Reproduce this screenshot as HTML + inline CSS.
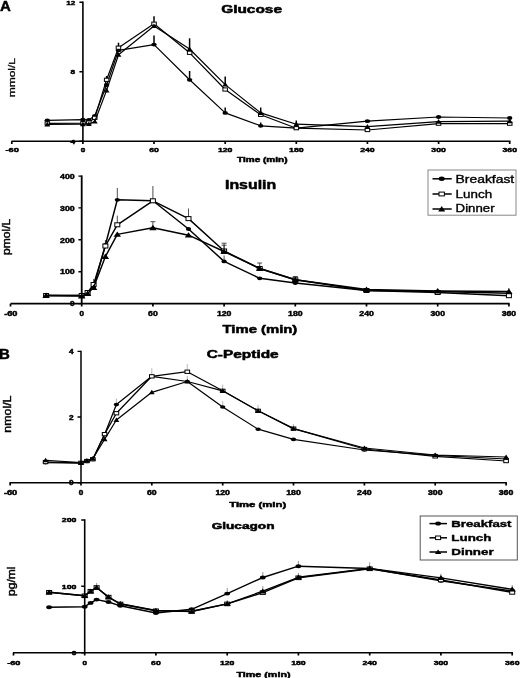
<!DOCTYPE html>
<html lang="en"><head><meta charset="utf-8"><title>Figure</title>
<style>
html,body{margin:0;padding:0;background:#fff}
body{width:520px;height:678px;overflow:hidden}
svg{display:block}
text{font-family:"Liberation Sans",sans-serif;fill:#000}
</style></head><body>
<svg width="520" height="678" viewBox="0 0 520 678">
<rect width="520" height="678" fill="#fff"/>
<path d="M11.5 141.2H510.5" stroke="#000" stroke-width="1.5" fill="none"/>
<path d="M82.9 1.5V141.2" stroke="#000" stroke-width="1.6" fill="none"/>
<path d="M11.8 141.2v2.7M82.9 141.2v2.7M154.0 141.2v2.7M225.2 141.2v2.7M296.3 141.2v2.7M367.4 141.2v2.7M438.6 141.2v2.7M509.7 141.2v2.7" stroke="#000" stroke-width="1.7" fill="none"/>
<path d="M82.9 2.2h-3.5M82.9 71.7h-3.5M82.9 141.2h-3.5" stroke="#000" stroke-width="1.4" fill="none"/>
<text x="5.5" y="152.4" font-size="6.1" font-weight="bold" text-anchor="start" textLength="13.3" lengthAdjust="spacingAndGlyphs" stroke="#000" stroke-width="0.45" stroke-linejoin="round">-60</text>
<text x="80.7" y="152.4" font-size="6.1" font-weight="bold" text-anchor="start" textLength="4.5" lengthAdjust="spacingAndGlyphs" stroke="#000" stroke-width="0.45" stroke-linejoin="round">0</text>
<text x="149.2" y="152.4" font-size="6.1" font-weight="bold" text-anchor="start" textLength="9.6" lengthAdjust="spacingAndGlyphs" stroke="#000" stroke-width="0.45" stroke-linejoin="round">60</text>
<text x="217.9" y="152.4" font-size="6.1" font-weight="bold" text-anchor="start" textLength="14.5" lengthAdjust="spacingAndGlyphs" stroke="#000" stroke-width="0.45" stroke-linejoin="round">120</text>
<text x="289.1" y="152.4" font-size="6.1" font-weight="bold" text-anchor="start" textLength="14.5" lengthAdjust="spacingAndGlyphs" stroke="#000" stroke-width="0.45" stroke-linejoin="round">180</text>
<text x="360.2" y="152.4" font-size="6.1" font-weight="bold" text-anchor="start" textLength="14.5" lengthAdjust="spacingAndGlyphs" stroke="#000" stroke-width="0.45" stroke-linejoin="round">240</text>
<text x="431.3" y="152.4" font-size="6.1" font-weight="bold" text-anchor="start" textLength="14.5" lengthAdjust="spacingAndGlyphs" stroke="#000" stroke-width="0.45" stroke-linejoin="round">300</text>
<text x="502.5" y="152.4" font-size="6.1" font-weight="bold" text-anchor="start" textLength="14.5" lengthAdjust="spacingAndGlyphs" stroke="#000" stroke-width="0.45" stroke-linejoin="round">360</text>
<text x="66.2" y="4.6" font-size="6.1" font-weight="bold" text-anchor="start" textLength="9.0" lengthAdjust="spacingAndGlyphs" stroke="#000" stroke-width="0.45" stroke-linejoin="round">12</text>
<text x="70.6" y="74.1" font-size="6.1" font-weight="bold" text-anchor="start" textLength="4.6" lengthAdjust="spacingAndGlyphs" stroke="#000" stroke-width="0.45" stroke-linejoin="round">8</text>
<text x="70.6" y="143.6" font-size="6.1" font-weight="bold" text-anchor="start" textLength="4.6" lengthAdjust="spacingAndGlyphs" stroke="#000" stroke-width="0.45" stroke-linejoin="round">4</text>
<path d="M118.5 47.7V42.7" stroke="#000" stroke-width="1.5" fill="none"/>
<path d="M154.0 23.7V16.3" stroke="#000" stroke-width="1.5" fill="none"/>
<path d="M154.0 44.6V35.6" stroke="#000" stroke-width="1.5" fill="none"/>
<path d="M189.6 49.0V38.3" stroke="#000" stroke-width="1.5" fill="none"/>
<path d="M189.6 79.8V71.0" stroke="#000" stroke-width="1.5" fill="none"/>
<path d="M225.2 84.6V76.5" stroke="#000" stroke-width="1.5" fill="none"/>
<path d="M225.2 112.9V107.5" stroke="#000" stroke-width="1.5" fill="none"/>
<path d="M260.7 112.9V107.5" stroke="#000" stroke-width="1.5" fill="none"/>
<path d="M260.7 125.8V122.5" stroke="#000" stroke-width="1.5" fill="none"/>
<path d="M296.3 124.2V120.5" stroke="#000" stroke-width="1.5" fill="none"/>
<path d="M106.6 79.8V76.0" stroke="#000" stroke-width="1.5" fill="none"/>
<polyline points="47.3,120.3 82.9,119.7 88.8,119.9 94.8,115.8 106.6,85.0 118.5,50.4 154.0,44.6 189.6,79.8 225.2,112.9 260.7,125.8 296.3,128.2 367.4,121.2 438.6,117.0 509.7,118.0" fill="none" stroke="#000" stroke-width="1.2" stroke-linejoin="round"/>
<ellipse cx="47.3" cy="120.3" rx="2.7" ry="1.9" fill="#000"/>
<ellipse cx="82.9" cy="119.7" rx="2.7" ry="1.9" fill="#000"/>
<ellipse cx="88.8" cy="119.9" rx="2.7" ry="1.9" fill="#000"/>
<ellipse cx="94.8" cy="115.8" rx="2.7" ry="1.9" fill="#000"/>
<ellipse cx="106.6" cy="85.0" rx="2.7" ry="1.9" fill="#000"/>
<ellipse cx="118.5" cy="50.4" rx="2.7" ry="1.9" fill="#000"/>
<ellipse cx="154.0" cy="44.6" rx="2.7" ry="1.9" fill="#000"/>
<ellipse cx="189.6" cy="79.8" rx="2.7" ry="1.9" fill="#000"/>
<ellipse cx="225.2" cy="112.9" rx="2.7" ry="1.9" fill="#000"/>
<ellipse cx="260.7" cy="125.8" rx="2.7" ry="1.9" fill="#000"/>
<ellipse cx="296.3" cy="128.2" rx="2.7" ry="1.9" fill="#000"/>
<ellipse cx="367.4" cy="121.2" rx="2.7" ry="1.9" fill="#000"/>
<ellipse cx="438.6" cy="117.0" rx="2.7" ry="1.9" fill="#000"/>
<ellipse cx="509.7" cy="118.0" rx="2.7" ry="1.9" fill="#000"/>
<polyline points="47.3,123.4 82.9,123.2 88.8,122.5 94.8,117.8 106.6,79.8 118.5,47.7 154.0,23.7 189.6,52.8 225.2,89.5 260.7,114.8 296.3,128.2 367.4,130.0 438.6,123.7 509.7,123.7" fill="none" stroke="#000" stroke-width="1.2" stroke-linejoin="round"/>
<rect x="45.1" y="121.8" width="4.5" height="3.2" fill="#fff" stroke="#000" stroke-width="1"/>
<rect x="80.7" y="121.6" width="4.5" height="3.2" fill="#fff" stroke="#000" stroke-width="1"/>
<rect x="86.6" y="120.9" width="4.5" height="3.2" fill="#fff" stroke="#000" stroke-width="1"/>
<rect x="92.5" y="116.2" width="4.5" height="3.2" fill="#fff" stroke="#000" stroke-width="1"/>
<rect x="104.4" y="78.2" width="4.5" height="3.2" fill="#fff" stroke="#000" stroke-width="1"/>
<rect x="116.2" y="46.1" width="4.5" height="3.2" fill="#fff" stroke="#000" stroke-width="1"/>
<rect x="151.8" y="22.1" width="4.5" height="3.2" fill="#fff" stroke="#000" stroke-width="1"/>
<rect x="187.4" y="51.2" width="4.5" height="3.2" fill="#fff" stroke="#000" stroke-width="1"/>
<rect x="222.9" y="87.9" width="4.5" height="3.2" fill="#fff" stroke="#000" stroke-width="1"/>
<rect x="258.5" y="113.2" width="4.5" height="3.2" fill="#fff" stroke="#000" stroke-width="1"/>
<rect x="294.1" y="126.6" width="4.5" height="3.2" fill="#fff" stroke="#000" stroke-width="1"/>
<rect x="365.2" y="128.4" width="4.5" height="3.2" fill="#fff" stroke="#000" stroke-width="1"/>
<rect x="436.3" y="122.1" width="4.5" height="3.2" fill="#fff" stroke="#000" stroke-width="1"/>
<rect x="507.5" y="122.1" width="4.5" height="3.2" fill="#fff" stroke="#000" stroke-width="1"/>
<polyline points="47.3,124.4 82.9,124.2 88.8,124.0 94.8,121.5 106.6,90.4 118.5,54.8 154.0,26.0 189.6,49.0 225.2,84.6 260.7,112.9 296.3,124.2 367.4,126.7 438.6,121.7 509.7,121.2" fill="none" stroke="#000" stroke-width="1.2" stroke-linejoin="round"/>
<path d="M44.4 126.4L50.2 126.4L47.3 121.8Z" fill="#000"/>
<path d="M80.0 126.2L85.8 126.2L82.9 121.6Z" fill="#000"/>
<path d="M85.9 126.0L91.7 126.0L88.8 121.4Z" fill="#000"/>
<path d="M91.9 123.5L97.7 123.5L94.8 118.9Z" fill="#000"/>
<path d="M103.7 92.4L109.5 92.4L106.6 87.8Z" fill="#000"/>
<path d="M115.6 56.8L121.4 56.8L118.5 52.2Z" fill="#000"/>
<path d="M151.1 28.0L156.9 28.0L154.0 23.4Z" fill="#000"/>
<path d="M186.7 51.0L192.5 51.0L189.6 46.4Z" fill="#000"/>
<path d="M222.3 86.6L228.1 86.6L225.2 82.0Z" fill="#000"/>
<path d="M257.8 114.9L263.6 114.9L260.7 110.3Z" fill="#000"/>
<path d="M293.4 126.2L299.2 126.2L296.3 121.6Z" fill="#000"/>
<path d="M364.5 128.7L370.3 128.7L367.4 124.1Z" fill="#000"/>
<path d="M435.7 123.7L441.5 123.7L438.6 119.1Z" fill="#000"/>
<path d="M506.8 123.2L512.6 123.2L509.7 118.6Z" fill="#000"/>
<text x="15.4" y="97.3" font-size="9.9" font-weight="normal" text-anchor="start" textLength="39.3" lengthAdjust="spacingAndGlyphs" transform="rotate(-90 15.4 97.3)" stroke="#000" stroke-width="0.3">mmol/L</text>
<text x="0" y="10.6" font-size="15" font-weight="bold" text-anchor="start" stroke="#000" stroke-width="0.5" stroke-linejoin="round">A</text>
<text x="221.2" y="12.6" font-size="10.6" font-weight="bold" text-anchor="start" textLength="60.8" lengthAdjust="spacingAndGlyphs" stroke="#000" stroke-width="0.5" stroke-linejoin="round">Glucose</text>
<text x="237" y="161.6" font-size="6.5" font-weight="bold" text-anchor="start" textLength="50.5" lengthAdjust="spacingAndGlyphs" stroke="#000" stroke-width="0.45" stroke-linejoin="round">Time (min)</text>
<path d="M10.5 303.65H509.7" stroke="#000" stroke-width="1.9" fill="none"/>
<path d="M81.7 175.4V303.65" stroke="#000" stroke-width="1.8" fill="none"/>
<path d="M10.5 303.65v2.9M81.7 303.65v2.9M152.9 303.65v2.9M224.1 303.65v2.9M295.3 303.65v2.9M366.5 303.65v2.9M437.7 303.65v2.9M508.9 303.65v2.9" stroke="#000" stroke-width="1.7" fill="none"/>
<path d="M81.7 176.1h-3.3M81.7 207.9h-3.3M81.7 239.8h-3.3M81.7 271.7h-3.3M81.7 303.65h-3.3" stroke="#000" stroke-width="1.4" fill="none"/>
<text x="4.2" y="316.2" font-size="7.0" font-weight="bold" text-anchor="start" textLength="13.3" lengthAdjust="spacingAndGlyphs" stroke="#000" stroke-width="0.45" stroke-linejoin="round">-60</text>
<text x="79.5" y="316.2" font-size="7.0" font-weight="bold" text-anchor="start" textLength="4.5" lengthAdjust="spacingAndGlyphs" stroke="#000" stroke-width="0.45" stroke-linejoin="round">0</text>
<text x="148.1" y="316.2" font-size="7.0" font-weight="bold" text-anchor="start" textLength="9.6" lengthAdjust="spacingAndGlyphs" stroke="#000" stroke-width="0.45" stroke-linejoin="round">60</text>
<text x="216.9" y="316.2" font-size="7.0" font-weight="bold" text-anchor="start" textLength="14.5" lengthAdjust="spacingAndGlyphs" stroke="#000" stroke-width="0.45" stroke-linejoin="round">120</text>
<text x="288.1" y="316.2" font-size="7.0" font-weight="bold" text-anchor="start" textLength="14.5" lengthAdjust="spacingAndGlyphs" stroke="#000" stroke-width="0.45" stroke-linejoin="round">180</text>
<text x="359.3" y="316.2" font-size="7.0" font-weight="bold" text-anchor="start" textLength="14.5" lengthAdjust="spacingAndGlyphs" stroke="#000" stroke-width="0.45" stroke-linejoin="round">240</text>
<text x="430.5" y="316.2" font-size="7.0" font-weight="bold" text-anchor="start" textLength="14.5" lengthAdjust="spacingAndGlyphs" stroke="#000" stroke-width="0.45" stroke-linejoin="round">300</text>
<text x="501.7" y="316.2" font-size="7.0" font-weight="bold" text-anchor="start" textLength="14.5" lengthAdjust="spacingAndGlyphs" stroke="#000" stroke-width="0.45" stroke-linejoin="round">360</text>
<text x="60.1" y="178.8" font-size="7.0" font-weight="bold" text-anchor="start" textLength="14.6" lengthAdjust="spacingAndGlyphs" stroke="#000" stroke-width="0.45" stroke-linejoin="round">400</text>
<text x="60.1" y="210.6" font-size="7.0" font-weight="bold" text-anchor="start" textLength="14.6" lengthAdjust="spacingAndGlyphs" stroke="#000" stroke-width="0.45" stroke-linejoin="round">300</text>
<text x="60.1" y="242.5" font-size="7.0" font-weight="bold" text-anchor="start" textLength="14.6" lengthAdjust="spacingAndGlyphs" stroke="#000" stroke-width="0.45" stroke-linejoin="round">200</text>
<text x="60.1" y="274.4" font-size="7.0" font-weight="bold" text-anchor="start" textLength="14.6" lengthAdjust="spacingAndGlyphs" stroke="#000" stroke-width="0.45" stroke-linejoin="round">100</text>
<text x="70.1" y="306.4" font-size="7.0" font-weight="bold" text-anchor="start" textLength="4.6" lengthAdjust="spacingAndGlyphs" stroke="#000" stroke-width="0.45" stroke-linejoin="round">0</text>
<path d="M117.3 199.8V188.0" stroke="#222" stroke-width="0.8" fill="none"/>
<path d="M117.3 224.8V215.6" stroke="#222" stroke-width="0.8" fill="none"/>
<path d="M152.9 200.8V186.0" stroke="#222" stroke-width="0.8" fill="none"/>
<path d="M152.9 227.8V221.7M150.4 221.7h5" stroke="#222" stroke-width="0.8" fill="none"/>
<path d="M188.5 218.6V208.5" stroke="#222" stroke-width="0.8" fill="none"/>
<path d="M224.1 251.0V243.2M221.6 243.2h5" stroke="#222" stroke-width="0.8" fill="none"/>
<path d="M224.1 251.5V245.2M221.6 245.2h5" stroke="#222" stroke-width="0.8" fill="none"/>
<path d="M224.1 261.4V255.5" stroke="#222" stroke-width="0.8" fill="none"/>
<path d="M259.7 268.5V263.0M257.2 263.0h5" stroke="#222" stroke-width="0.8" fill="none"/>
<path d="M93.6 284.5V279.0" stroke="#222" stroke-width="0.8" fill="none"/>
<path d="M295.3 279.8V276.5M292.8 276.5h5" stroke="#222" stroke-width="0.8" fill="none"/>
<path d="M105.4 246.0V240.0" stroke="#222" stroke-width="0.8" fill="none"/>
<path d="M508.9 291.5V288.0" stroke="#222" stroke-width="0.8" fill="none"/>
<polyline points="46.1,295.5 81.7,295.5 87.6,293.0 93.6,287.0 105.4,245.0 117.3,199.8 152.9,200.8 188.5,229.0 224.1,261.4 259.7,278.3 295.3,283.0 366.5,290.5 437.7,291.5 508.9,293.3" fill="none" stroke="#000" stroke-width="1.45" stroke-linejoin="round"/>
<ellipse cx="46.1" cy="295.5" rx="2.6" ry="1.9" fill="#000"/>
<ellipse cx="81.7" cy="295.5" rx="2.6" ry="1.9" fill="#000"/>
<ellipse cx="87.6" cy="293.0" rx="2.6" ry="1.9" fill="#000"/>
<ellipse cx="93.6" cy="287.0" rx="2.6" ry="1.9" fill="#000"/>
<ellipse cx="105.4" cy="245.0" rx="2.6" ry="1.9" fill="#000"/>
<ellipse cx="117.3" cy="199.8" rx="2.6" ry="1.9" fill="#000"/>
<ellipse cx="152.9" cy="200.8" rx="2.6" ry="1.9" fill="#000"/>
<ellipse cx="188.5" cy="229.0" rx="2.6" ry="1.9" fill="#000"/>
<ellipse cx="224.1" cy="261.4" rx="2.6" ry="1.9" fill="#000"/>
<ellipse cx="259.7" cy="278.3" rx="2.6" ry="1.9" fill="#000"/>
<ellipse cx="295.3" cy="283.0" rx="2.6" ry="1.9" fill="#000"/>
<ellipse cx="366.5" cy="290.5" rx="2.6" ry="1.9" fill="#000"/>
<ellipse cx="437.7" cy="291.5" rx="2.6" ry="1.9" fill="#000"/>
<ellipse cx="508.9" cy="293.3" rx="2.6" ry="1.9" fill="#000"/>
<polyline points="46.1,295.5 81.7,295.5 87.6,292.5 93.6,284.5 105.4,246.0 117.3,224.8 152.9,200.8 188.5,218.6 224.1,251.0 259.7,268.5 295.3,279.8 366.5,290.5 437.7,292.5 508.9,295.7" fill="none" stroke="#000" stroke-width="1.45" stroke-linejoin="round"/>
<rect x="43.6" y="293.5" width="5.0" height="4.0" fill="#fff" stroke="#000" stroke-width="1"/>
<rect x="79.2" y="293.5" width="5.0" height="4.0" fill="#fff" stroke="#000" stroke-width="1"/>
<rect x="85.1" y="290.5" width="5.0" height="4.0" fill="#fff" stroke="#000" stroke-width="1"/>
<rect x="91.1" y="282.5" width="5.0" height="4.0" fill="#fff" stroke="#000" stroke-width="1"/>
<rect x="102.9" y="244.0" width="5.0" height="4.0" fill="#fff" stroke="#000" stroke-width="1"/>
<rect x="114.8" y="222.8" width="5.0" height="4.0" fill="#fff" stroke="#000" stroke-width="1"/>
<rect x="150.4" y="198.8" width="5.0" height="4.0" fill="#fff" stroke="#000" stroke-width="1"/>
<rect x="186.0" y="216.6" width="5.0" height="4.0" fill="#fff" stroke="#000" stroke-width="1"/>
<rect x="221.6" y="249.0" width="5.0" height="4.0" fill="#fff" stroke="#000" stroke-width="1"/>
<rect x="257.2" y="266.5" width="5.0" height="4.0" fill="#fff" stroke="#000" stroke-width="1"/>
<rect x="292.8" y="277.8" width="5.0" height="4.0" fill="#fff" stroke="#000" stroke-width="1"/>
<rect x="364.0" y="288.5" width="5.0" height="4.0" fill="#fff" stroke="#000" stroke-width="1"/>
<rect x="435.2" y="290.5" width="5.0" height="4.0" fill="#fff" stroke="#000" stroke-width="1"/>
<rect x="506.4" y="293.7" width="5.0" height="4.0" fill="#fff" stroke="#000" stroke-width="1"/>
<polyline points="46.1,295.5 81.7,296.0 87.6,293.5 93.6,287.5 105.4,256.6 117.3,234.4 152.9,227.8 188.5,235.2 224.1,251.5 259.7,268.5 295.3,279.8 366.5,289.5 437.7,291.0 508.9,291.5" fill="none" stroke="#000" stroke-width="1.45" stroke-linejoin="round"/>
<path d="M42.4 297.9L49.8 297.9L46.1 292.5Z" fill="#000"/>
<path d="M78.0 298.4L85.4 298.4L81.7 293.0Z" fill="#000"/>
<path d="M83.9 295.9L91.3 295.9L87.6 290.5Z" fill="#000"/>
<path d="M89.9 289.9L97.3 289.9L93.6 284.5Z" fill="#000"/>
<path d="M101.7 259.0L109.1 259.0L105.4 253.6Z" fill="#000"/>
<path d="M113.6 236.8L121.0 236.8L117.3 231.4Z" fill="#000"/>
<path d="M149.2 230.2L156.6 230.2L152.9 224.8Z" fill="#000"/>
<path d="M184.8 237.6L192.2 237.6L188.5 232.2Z" fill="#000"/>
<path d="M220.4 253.9L227.8 253.9L224.1 248.5Z" fill="#000"/>
<path d="M256.0 270.9L263.4 270.9L259.7 265.5Z" fill="#000"/>
<path d="M291.6 282.2L299.0 282.2L295.3 276.8Z" fill="#000"/>
<path d="M362.8 291.9L370.2 291.9L366.5 286.5Z" fill="#000"/>
<path d="M434.0 293.4L441.4 293.4L437.7 288.0Z" fill="#000"/>
<path d="M505.2 293.9L512.6 293.9L508.9 288.5Z" fill="#000"/>
<text x="10.5" y="254.9" font-size="11.8" font-weight="normal" text-anchor="start" textLength="36.1" lengthAdjust="spacingAndGlyphs" transform="rotate(-90 10.5 254.9)" stroke="#000" stroke-width="0.45">pmol/L</text>
<text x="225" y="188.7" font-size="12.9" font-weight="bold" text-anchor="start" textLength="51.2" lengthAdjust="spacingAndGlyphs" stroke="#000" stroke-width="0.5" stroke-linejoin="round">Insulin</text>
<text x="222.5" y="333.3" font-size="11" font-weight="bold" text-anchor="start" textLength="74.8" lengthAdjust="spacingAndGlyphs" stroke="#000" stroke-width="0.5" stroke-linejoin="round">Time (min)</text>
<rect x="428" y="170" width="88.0" height="45.2" fill="#fff" stroke="#888" stroke-width="1"/>
<path d="M432.5 178.8H451.7" stroke="#000" stroke-width="1.5"/>
<ellipse cx="441.7" cy="178.8" rx="3.0" ry="2.2" fill="#000"/>
<path d="M432.5 194H451.7" stroke="#000" stroke-width="1.5"/>
<rect x="439.0" y="192.1" width="5.4" height="3.8" fill="#fff" stroke="#000" stroke-width="1"/>
<path d="M432.5 209H451.7" stroke="#000" stroke-width="1.5"/>
<path d="M438.2 211.4L445.2 211.4L441.7 206.0Z" fill="#000"/>
<text x="455.6" y="182.7" font-size="10.8" font-weight="normal" text-anchor="start" textLength="58.6" lengthAdjust="spacingAndGlyphs" stroke="#000" stroke-width="0.35">Breakfast</text>
<text x="455.6" y="197.5" font-size="10.8" font-weight="normal" text-anchor="start" textLength="36.5" lengthAdjust="spacingAndGlyphs" stroke="#000" stroke-width="0.35">Lunch</text>
<text x="455.6" y="212.3" font-size="10.8" font-weight="normal" text-anchor="start" textLength="39" lengthAdjust="spacingAndGlyphs" stroke="#000" stroke-width="0.35">Dinner</text>
<path d="M9.5 482.7H506.9" stroke="#000" stroke-width="1.6" fill="none"/>
<path d="M81.0 350.7V482.7" stroke="#000" stroke-width="1.5" fill="none"/>
<path d="M10.2 482.7v2.7M81.0 482.7v2.7M151.8 482.7v2.7M222.7 482.7v2.7M293.5 482.7v2.7M364.4 482.7v2.7M435.2 482.7v2.7M506.1 482.7v2.7" stroke="#000" stroke-width="1.7" fill="none"/>
<path d="M81.0 351.4h-3.5M81.0 417h-3.5M81.0 482.7h-3.5" stroke="#000" stroke-width="1.4" fill="none"/>
<text x="3.9" y="495.1" font-size="6.4" font-weight="bold" text-anchor="start" textLength="13.3" lengthAdjust="spacingAndGlyphs" stroke="#000" stroke-width="0.45" stroke-linejoin="round">-60</text>
<text x="78.8" y="495.1" font-size="6.4" font-weight="bold" text-anchor="start" textLength="4.5" lengthAdjust="spacingAndGlyphs" stroke="#000" stroke-width="0.45" stroke-linejoin="round">0</text>
<text x="147.0" y="495.1" font-size="6.4" font-weight="bold" text-anchor="start" textLength="9.6" lengthAdjust="spacingAndGlyphs" stroke="#000" stroke-width="0.45" stroke-linejoin="round">60</text>
<text x="215.4" y="495.1" font-size="6.4" font-weight="bold" text-anchor="start" textLength="14.5" lengthAdjust="spacingAndGlyphs" stroke="#000" stroke-width="0.45" stroke-linejoin="round">120</text>
<text x="286.3" y="495.1" font-size="6.4" font-weight="bold" text-anchor="start" textLength="14.5" lengthAdjust="spacingAndGlyphs" stroke="#000" stroke-width="0.45" stroke-linejoin="round">180</text>
<text x="357.1" y="495.1" font-size="6.4" font-weight="bold" text-anchor="start" textLength="14.5" lengthAdjust="spacingAndGlyphs" stroke="#000" stroke-width="0.45" stroke-linejoin="round">240</text>
<text x="428.0" y="495.1" font-size="6.4" font-weight="bold" text-anchor="start" textLength="14.5" lengthAdjust="spacingAndGlyphs" stroke="#000" stroke-width="0.45" stroke-linejoin="round">300</text>
<text x="498.8" y="495.1" font-size="6.4" font-weight="bold" text-anchor="start" textLength="14.5" lengthAdjust="spacingAndGlyphs" stroke="#000" stroke-width="0.45" stroke-linejoin="round">360</text>
<text x="69.1" y="353.9" font-size="6.4" font-weight="bold" text-anchor="start" textLength="4.6" lengthAdjust="spacingAndGlyphs" stroke="#000" stroke-width="0.45" stroke-linejoin="round">4</text>
<text x="69.1" y="419.5" font-size="6.4" font-weight="bold" text-anchor="start" textLength="4.6" lengthAdjust="spacingAndGlyphs" stroke="#000" stroke-width="0.45" stroke-linejoin="round">2</text>
<text x="69.1" y="485.2" font-size="6.4" font-weight="bold" text-anchor="start" textLength="4.6" lengthAdjust="spacingAndGlyphs" stroke="#000" stroke-width="0.45" stroke-linejoin="round">0</text>
<path d="M116.4 404.6V398.5" stroke="#999" stroke-width="0.7" fill="none"/>
<path d="M151.8 376.3V368.3" stroke="#999" stroke-width="0.7" fill="none"/>
<path d="M187.3 371.7V364.0" stroke="#999" stroke-width="0.7" fill="none"/>
<path d="M187.3 381.5V376.0" stroke="#999" stroke-width="0.7" fill="none"/>
<path d="M222.7 390.8V384.6" stroke="#999" stroke-width="0.7" fill="none"/>
<path d="M258.1 410.8V405.0" stroke="#999" stroke-width="0.7" fill="none"/>
<path d="M222.7 407.0V401.0" stroke="#999" stroke-width="0.7" fill="none"/>
<path d="M293.5 428.6V424.0" stroke="#999" stroke-width="0.7" fill="none"/>
<polyline points="45.6,462.6 81.0,463.2 86.9,461.4 92.8,459.4 104.6,434.5 116.4,404.6 151.8,376.3 187.3,381.5 222.7,407.0 258.1,429.2 293.5,439.4 364.4,450.0 435.2,455.3 506.1,459.0" fill="none" stroke="#000" stroke-width="1.25" stroke-linejoin="round"/>
<ellipse cx="45.6" cy="462.6" rx="2.7" ry="1.8" fill="#000"/>
<ellipse cx="81.0" cy="463.2" rx="2.7" ry="1.8" fill="#000"/>
<ellipse cx="86.9" cy="461.4" rx="2.7" ry="1.8" fill="#000"/>
<ellipse cx="92.8" cy="459.4" rx="2.7" ry="1.8" fill="#000"/>
<ellipse cx="104.6" cy="434.5" rx="2.7" ry="1.8" fill="#000"/>
<ellipse cx="116.4" cy="404.6" rx="2.7" ry="1.8" fill="#000"/>
<ellipse cx="151.8" cy="376.3" rx="2.7" ry="1.8" fill="#000"/>
<ellipse cx="187.3" cy="381.5" rx="2.7" ry="1.8" fill="#000"/>
<ellipse cx="222.7" cy="407.0" rx="2.7" ry="1.8" fill="#000"/>
<ellipse cx="258.1" cy="429.2" rx="2.7" ry="1.8" fill="#000"/>
<ellipse cx="293.5" cy="439.4" rx="2.7" ry="1.8" fill="#000"/>
<ellipse cx="364.4" cy="450.0" rx="2.7" ry="1.8" fill="#000"/>
<ellipse cx="435.2" cy="455.3" rx="2.7" ry="1.8" fill="#000"/>
<ellipse cx="506.1" cy="459.0" rx="2.7" ry="1.8" fill="#000"/>
<polyline points="45.6,462.0 81.0,462.8 86.9,461.0 92.8,459.2 104.6,434.1 116.4,413.2 151.8,376.3 187.3,371.7 222.7,390.8 258.1,410.8 293.5,428.6 364.4,449.0 435.2,456.3 506.1,461.0" fill="none" stroke="#000" stroke-width="1.25" stroke-linejoin="round"/>
<rect x="43.3" y="460.4" width="4.6" height="3.3" fill="#fff" stroke="#000" stroke-width="1"/>
<rect x="78.7" y="461.2" width="4.6" height="3.3" fill="#fff" stroke="#000" stroke-width="1"/>
<rect x="84.6" y="459.4" width="4.6" height="3.3" fill="#fff" stroke="#000" stroke-width="1"/>
<rect x="90.5" y="457.6" width="4.6" height="3.3" fill="#fff" stroke="#000" stroke-width="1"/>
<rect x="102.3" y="432.5" width="4.6" height="3.3" fill="#fff" stroke="#000" stroke-width="1"/>
<rect x="114.1" y="411.6" width="4.6" height="3.3" fill="#fff" stroke="#000" stroke-width="1"/>
<rect x="149.5" y="374.7" width="4.6" height="3.3" fill="#fff" stroke="#000" stroke-width="1"/>
<rect x="185.0" y="370.1" width="4.6" height="3.3" fill="#fff" stroke="#000" stroke-width="1"/>
<rect x="220.4" y="389.2" width="4.6" height="3.3" fill="#fff" stroke="#000" stroke-width="1"/>
<rect x="255.8" y="409.2" width="4.6" height="3.3" fill="#fff" stroke="#000" stroke-width="1"/>
<rect x="291.2" y="427.0" width="4.6" height="3.3" fill="#fff" stroke="#000" stroke-width="1"/>
<rect x="362.1" y="447.4" width="4.6" height="3.3" fill="#fff" stroke="#000" stroke-width="1"/>
<rect x="432.9" y="454.7" width="4.6" height="3.3" fill="#fff" stroke="#000" stroke-width="1"/>
<rect x="503.8" y="459.4" width="4.6" height="3.3" fill="#fff" stroke="#000" stroke-width="1"/>
<polyline points="45.6,460.3 81.0,462.5 86.9,460.5 92.8,458.6 104.6,439.2 116.4,420.0 151.8,392.3 187.3,381.5 222.7,390.8 258.1,410.8 293.5,428.6 364.4,448.0 435.2,455.0 506.1,457.0" fill="none" stroke="#000" stroke-width="1.25" stroke-linejoin="round"/>
<path d="M42.7 462.3L48.5 462.3L45.6 457.7Z" fill="#000"/>
<path d="M78.1 464.5L83.9 464.5L81.0 459.9Z" fill="#000"/>
<path d="M84.0 462.5L89.8 462.5L86.9 457.9Z" fill="#000"/>
<path d="M89.9 460.6L95.7 460.6L92.8 456.0Z" fill="#000"/>
<path d="M101.7 441.2L107.5 441.2L104.6 436.6Z" fill="#000"/>
<path d="M113.5 422.0L119.3 422.0L116.4 417.4Z" fill="#000"/>
<path d="M148.9 394.3L154.7 394.3L151.8 389.7Z" fill="#000"/>
<path d="M184.4 383.5L190.2 383.5L187.3 378.9Z" fill="#000"/>
<path d="M219.8 392.8L225.6 392.8L222.7 388.2Z" fill="#000"/>
<path d="M255.2 412.8L261.0 412.8L258.1 408.2Z" fill="#000"/>
<path d="M290.6 430.6L296.4 430.6L293.5 426.0Z" fill="#000"/>
<path d="M361.5 450.0L367.3 450.0L364.4 445.4Z" fill="#000"/>
<path d="M432.3 457.0L438.1 457.0L435.2 452.4Z" fill="#000"/>
<path d="M503.2 459.0L509.0 459.0L506.1 454.4Z" fill="#000"/>
<text x="10.6" y="432.7" font-size="11.8" font-weight="normal" text-anchor="start" textLength="37.2" lengthAdjust="spacingAndGlyphs" transform="rotate(-90 10.6 432.7)" stroke="#000" stroke-width="0.45">nmol/L</text>
<text x="-1" y="359.2" font-size="15" font-weight="bold" text-anchor="start" stroke="#000" stroke-width="0.5" stroke-linejoin="round">B</text>
<text x="206.7" y="357.5" font-size="10.8" font-weight="bold" text-anchor="start" textLength="72" lengthAdjust="spacingAndGlyphs" stroke="#000" stroke-width="0.5" stroke-linejoin="round">C-Peptide</text>
<text x="229.2" y="507.2" font-size="7.0" font-weight="bold" text-anchor="start" textLength="57" lengthAdjust="spacingAndGlyphs" stroke="#000" stroke-width="0.45" stroke-linejoin="round">Time (min)</text>
<path d="M13 652.8H513.0" stroke="#000" stroke-width="1.5" fill="none"/>
<path d="M84.7 519.3V652.8" stroke="#000" stroke-width="1.6" fill="none"/>
<path d="M13.5 652.8v2.7M84.7 652.8v2.7M155.9 652.8v2.7M227.2 652.8v2.7M298.4 652.8v2.7M369.7 652.8v2.7M440.9 652.8v2.7M512.2 652.8v2.7" stroke="#000" stroke-width="1.7" fill="none"/>
<path d="M84.7 520h-3.5M84.7 586.3h-3.5M84.7 652.8h-3.5" stroke="#000" stroke-width="1.4" fill="none"/>
<text x="7.2" y="664.5" font-size="6.1" font-weight="bold" text-anchor="start" textLength="13.3" lengthAdjust="spacingAndGlyphs" stroke="#000" stroke-width="0.45" stroke-linejoin="round">-60</text>
<text x="82.5" y="664.5" font-size="6.1" font-weight="bold" text-anchor="start" textLength="4.5" lengthAdjust="spacingAndGlyphs" stroke="#000" stroke-width="0.45" stroke-linejoin="round">0</text>
<text x="151.1" y="664.5" font-size="6.1" font-weight="bold" text-anchor="start" textLength="9.6" lengthAdjust="spacingAndGlyphs" stroke="#000" stroke-width="0.45" stroke-linejoin="round">60</text>
<text x="219.9" y="664.5" font-size="6.1" font-weight="bold" text-anchor="start" textLength="14.5" lengthAdjust="spacingAndGlyphs" stroke="#000" stroke-width="0.45" stroke-linejoin="round">120</text>
<text x="291.2" y="664.5" font-size="6.1" font-weight="bold" text-anchor="start" textLength="14.5" lengthAdjust="spacingAndGlyphs" stroke="#000" stroke-width="0.45" stroke-linejoin="round">180</text>
<text x="362.4" y="664.5" font-size="6.1" font-weight="bold" text-anchor="start" textLength="14.5" lengthAdjust="spacingAndGlyphs" stroke="#000" stroke-width="0.45" stroke-linejoin="round">240</text>
<text x="433.7" y="664.5" font-size="6.1" font-weight="bold" text-anchor="start" textLength="14.5" lengthAdjust="spacingAndGlyphs" stroke="#000" stroke-width="0.45" stroke-linejoin="round">300</text>
<text x="505.0" y="664.5" font-size="6.1" font-weight="bold" text-anchor="start" textLength="14.5" lengthAdjust="spacingAndGlyphs" stroke="#000" stroke-width="0.45" stroke-linejoin="round">360</text>
<text x="61.8" y="522.4" font-size="6.1" font-weight="bold" text-anchor="start" textLength="14.6" lengthAdjust="spacingAndGlyphs" stroke="#000" stroke-width="0.45" stroke-linejoin="round">200</text>
<text x="61.8" y="588.7" font-size="6.1" font-weight="bold" text-anchor="start" textLength="14.6" lengthAdjust="spacingAndGlyphs" stroke="#000" stroke-width="0.45" stroke-linejoin="round">100</text>
<text x="71.8" y="655.2" font-size="6.1" font-weight="bold" text-anchor="start" textLength="4.6" lengthAdjust="spacingAndGlyphs" stroke="#000" stroke-width="0.45" stroke-linejoin="round">0</text>
<path d="M369.7 568.0V562.3" stroke="#777" stroke-width="0.8" fill="none"/>
<path d="M440.9 577.9V573.7" stroke="#777" stroke-width="0.8" fill="none"/>
<path d="M512.2 589.3V585.0" stroke="#777" stroke-width="0.8" fill="none"/>
<path d="M227.2 593.8V588.0" stroke="#777" stroke-width="0.8" fill="none"/>
<path d="M262.8 577.5V572.0" stroke="#777" stroke-width="0.8" fill="none"/>
<path d="M298.4 566.2V561.0" stroke="#777" stroke-width="0.8" fill="none"/>
<path d="M262.8 590.8V586.0" stroke="#777" stroke-width="0.8" fill="none"/>
<path d="M298.4 578.5V573.0" stroke="#777" stroke-width="0.8" fill="none"/>
<path d="M96.6 587.4V583.0" stroke="#777" stroke-width="0.8" fill="none"/>
<path d="M227.2 604.6V600.0" stroke="#777" stroke-width="0.8" fill="none"/>
<polyline points="49.1,607.3 84.7,606.7 90.6,602.9 96.6,599.6 108.5,602.0 120.3,605.8 155.9,613.0 191.6,609.3 227.2,593.6 262.8,577.5 298.4,566.2 369.7,568.5 440.9,580.7 512.2,591.0" fill="none" stroke="#000" stroke-width="1.4" stroke-linejoin="round"/>
<ellipse cx="49.1" cy="607.3" rx="2.9" ry="1.95" fill="#000"/>
<ellipse cx="84.7" cy="606.7" rx="2.9" ry="1.95" fill="#000"/>
<ellipse cx="90.6" cy="602.9" rx="2.9" ry="1.95" fill="#000"/>
<ellipse cx="96.6" cy="599.6" rx="2.9" ry="1.95" fill="#000"/>
<ellipse cx="108.5" cy="602.0" rx="2.9" ry="1.95" fill="#000"/>
<ellipse cx="120.3" cy="605.8" rx="2.9" ry="1.95" fill="#000"/>
<ellipse cx="155.9" cy="613.0" rx="2.9" ry="1.95" fill="#000"/>
<ellipse cx="191.6" cy="609.3" rx="2.9" ry="1.95" fill="#000"/>
<ellipse cx="227.2" cy="593.6" rx="2.9" ry="1.95" fill="#000"/>
<ellipse cx="262.8" cy="577.5" rx="2.9" ry="1.95" fill="#000"/>
<ellipse cx="298.4" cy="566.2" rx="2.9" ry="1.95" fill="#000"/>
<ellipse cx="369.7" cy="568.5" rx="2.9" ry="1.95" fill="#000"/>
<ellipse cx="440.9" cy="580.7" rx="2.9" ry="1.95" fill="#000"/>
<ellipse cx="512.2" cy="591.0" rx="2.9" ry="1.95" fill="#000"/>
<polyline points="49.1,592.3 84.7,595.8 90.6,591.3 96.6,587.5 108.5,597.1 120.3,604.0 155.9,610.8 191.6,611.3 227.2,603.9 262.8,592.6 298.4,577.8 369.7,568.8 440.9,580.0 512.2,592.4" fill="none" stroke="#000" stroke-width="1.4" stroke-linejoin="round"/>
<rect x="46.6" y="590.5" width="5.0" height="3.6" fill="#fff" stroke="#000" stroke-width="1"/>
<rect x="82.2" y="594.0" width="5.0" height="3.6" fill="#fff" stroke="#000" stroke-width="1"/>
<rect x="88.1" y="589.5" width="5.0" height="3.6" fill="#fff" stroke="#000" stroke-width="1"/>
<rect x="94.1" y="585.7" width="5.0" height="3.6" fill="#fff" stroke="#000" stroke-width="1"/>
<rect x="106.0" y="595.3" width="5.0" height="3.6" fill="#fff" stroke="#000" stroke-width="1"/>
<rect x="117.8" y="602.2" width="5.0" height="3.6" fill="#fff" stroke="#000" stroke-width="1"/>
<rect x="153.4" y="609.0" width="5.0" height="3.6" fill="#fff" stroke="#000" stroke-width="1"/>
<rect x="189.1" y="609.5" width="5.0" height="3.6" fill="#fff" stroke="#000" stroke-width="1"/>
<rect x="224.7" y="602.1" width="5.0" height="3.6" fill="#fff" stroke="#000" stroke-width="1"/>
<rect x="260.3" y="590.8" width="5.0" height="3.6" fill="#fff" stroke="#000" stroke-width="1"/>
<rect x="295.9" y="576.0" width="5.0" height="3.6" fill="#fff" stroke="#000" stroke-width="1"/>
<rect x="367.2" y="567.0" width="5.0" height="3.6" fill="#fff" stroke="#000" stroke-width="1"/>
<rect x="438.4" y="578.2" width="5.0" height="3.6" fill="#fff" stroke="#000" stroke-width="1"/>
<rect x="509.7" y="590.6" width="5.0" height="3.6" fill="#fff" stroke="#000" stroke-width="1"/>
<polyline points="49.1,592.3 84.7,595.8 90.6,591.3 96.6,587.5 108.5,597.1 120.3,603.8 155.9,610.5 191.6,611.5 227.2,603.9 262.8,591.2 298.4,577.3 369.7,568.4 440.9,577.9 512.2,589.3" fill="none" stroke="#000" stroke-width="1.4" stroke-linejoin="round"/>
<path d="M45.5 594.5L52.7 594.5L49.1 589.5Z" fill="#000"/>
<path d="M81.1 598.0L88.3 598.0L84.7 593.0Z" fill="#000"/>
<path d="M87.0 593.5L94.2 593.5L90.6 588.5Z" fill="#000"/>
<path d="M93.0 589.7L100.2 589.7L96.6 584.7Z" fill="#000"/>
<path d="M104.9 599.3L112.0 599.3L108.5 594.3Z" fill="#000"/>
<path d="M116.7 606.0L123.9 606.0L120.3 601.0Z" fill="#000"/>
<path d="M152.3 612.7L159.5 612.7L155.9 607.7Z" fill="#000"/>
<path d="M188.0 613.7L195.2 613.7L191.6 608.7Z" fill="#000"/>
<path d="M223.6 606.1L230.8 606.1L227.2 601.1Z" fill="#000"/>
<path d="M259.2 593.4L266.4 593.4L262.8 588.4Z" fill="#000"/>
<path d="M294.8 579.5L302.1 579.5L298.4 574.5Z" fill="#000"/>
<path d="M366.1 570.6L373.3 570.6L369.7 565.6Z" fill="#000"/>
<path d="M437.3 580.1L444.6 580.1L440.9 575.1Z" fill="#000"/>
<path d="M508.6 591.5L515.8 591.5L512.2 586.5Z" fill="#000"/>
<text x="14.5" y="596" font-size="11.8" font-weight="normal" text-anchor="start" textLength="29.5" lengthAdjust="spacingAndGlyphs" transform="rotate(-90 14.5 596)" stroke="#000" stroke-width="0.45">pg/ml</text>
<text x="211.7" y="528.7" font-size="9.2" font-weight="bold" text-anchor="start" textLength="62.8" lengthAdjust="spacingAndGlyphs" stroke="#000" stroke-width="0.5" stroke-linejoin="round">Glucagon</text>
<text x="236.5" y="676.6" font-size="7.0" font-weight="bold" text-anchor="start" textLength="54" lengthAdjust="spacingAndGlyphs" stroke="#000" stroke-width="0.45" stroke-linejoin="round">Time (min)</text>
<rect x="420.2" y="516" width="97.1" height="44.0" fill="#fff" stroke="#555" stroke-width="1"/>
<path d="M429.5 523.6H447" stroke="#000" stroke-width="1.5"/>
<ellipse cx="438.1" cy="523.6" rx="2.9" ry="2.0" fill="#000"/>
<path d="M429.5 537.8H447" stroke="#000" stroke-width="1.5"/>
<rect x="435.6" y="536.0" width="5.0" height="3.6" fill="#fff" stroke="#000" stroke-width="1"/>
<path d="M429.5 552H447" stroke="#000" stroke-width="1.5"/>
<path d="M434.9 554.0L441.4 554.0L438.1 549.4Z" fill="#000"/>
<text x="451.3" y="526.8" font-size="9.8" font-weight="bold" text-anchor="start" textLength="60.2" lengthAdjust="spacingAndGlyphs" stroke="#000" stroke-width="0.4">Breakfast</text>
<text x="451.3" y="541" font-size="9.8" font-weight="bold" text-anchor="start" textLength="40.1" lengthAdjust="spacingAndGlyphs" stroke="#000" stroke-width="0.4">Lunch</text>
<text x="451.3" y="555.3" font-size="9.8" font-weight="bold" text-anchor="start" textLength="42.3" lengthAdjust="spacingAndGlyphs" stroke="#000" stroke-width="0.4">Dinner</text>
</svg></body></html>
